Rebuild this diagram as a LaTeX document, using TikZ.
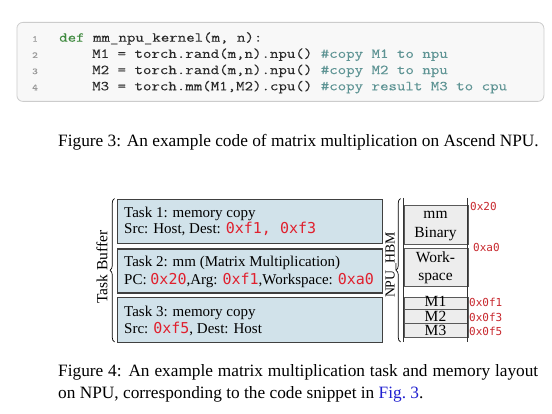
\documentclass[tikz,border=0pt]{standalone}
\usepackage{fontspec}
\setmainfont{Liberation Serif}
\newfontfamily\codefont[FakeStretch=1.2,FakeBold=0.12]{Latin Modern Mono}
\newfontfamily\hexfont{DejaVu Sans Mono}
\usetikzlibrary{decorations.pathreplacing}
\definecolor{codebg}{HTML}{F8F8F8}
\definecolor{codeborder}{HTML}{CCCCCC}
\definecolor{codetext}{HTML}{2A2A2A}
\definecolor{kwgreen}{HTML}{3F8A3F}
\definecolor{cmtteal}{HTML}{5E9494}
\definecolor{lnogray}{HTML}{9A9A9A}
\definecolor{taskfill}{HTML}{D1E2EA}
\definecolor{hexred}{HTML}{E0202E}
\definecolor{addrred}{HTML}{C8282E}
\definecolor{cellfill}{HTML}{EDEDED}
\definecolor{linkblue}{HTML}{2020D0}
\newcommand{\hx}[1]{{\hexfont\color{hexred}#1}}
\tikzset{
  codeline/.style={anchor=base west, inner sep=0pt, font=\codefont\fontsize{13.7}{16}\selectfont, text=codetext},
  lineno/.style={anchor=base, inner sep=0pt, font=\codefont\fontsize{9}{10}\selectfont, text=lnogray},
  caption/.style={anchor=base west, inner sep=0pt, font=\fontsize{17.3}{20}\selectfont},
  taskbox/.style={draw=black!75, line width=1.1pt, fill=taskfill, anchor=north west, minimum width=265pt, inner sep=0pt},
  tasktext/.style={anchor=base west, inner sep=0pt, font=\fontsize{15}{17}\selectfont},
  sidelabel/.style={rotate=90, inner sep=0pt, font=\fontsize{15.5}{17}\selectfont},
  cell/.style={draw=black!65, line width=0.6pt, fill=cellfill, anchor=north west, minimum width=64pt, inner sep=0pt},
  celltext/.style={anchor=base, inner sep=0pt, font=\fontsize{15.5}{17}\selectfont},
  addr/.style={anchor=base west, inner sep=0pt, font=\hexfont\fontsize{11}{12}\selectfont, text=addrred},
  bracestyle/.style={decorate, decoration={brace, amplitude=4.5pt}, line width=0.7pt},
}
\begin{document}
\begin{tikzpicture}[x=1pt,y=-1pt]
\fill[white] (0,0) rectangle (552,414);
\useasboundingbox (0,0) rectangle (552,414);
% code box
\node[draw=codeborder, fill=codebg, rounded corners=6pt, line width=0.8pt, anchor=north west, minimum width=527pt, minimum height=79pt, inner sep=0pt] (codebox) at (16.5,22) {};
\node[lineno] (n1) at (35,41.7) {1};
\node[lineno] (n2) at (35,57.9) {2};
\node[lineno] (n3) at (35,74.1) {3};
\node[lineno] (n4) at (35,90.3) {4};
\node[codeline] (c1) at (59,41.7) {\textcolor{kwgreen}{def} mm\_npu\_kernel(m, n):};
\node[codeline] (c2) at (92,57.9) {M1 = torch.rand(m,n).npu() \textcolor{cmtteal}{\#copy M1 to npu}};
\node[codeline] (c3) at (92,74.1) {M2 = torch.rand(m,n).npu() \textcolor{cmtteal}{\#copy M2 to npu}};
\node[codeline] (c4) at (92,90.3) {M3 = torch.mm(M1,M2).cpu() \textcolor{cmtteal}{\#copy result M3 to cpu}};
% caption 3
\node[caption] (cap3) at (58,146.7) {Figure 3: An example code of matrix multiplication on Ascend NPU.};
% task boxes
\node[taskbox, minimum height=44pt] (t1) at (117,198.7) {};
\node[taskbox, minimum height=44pt] (t2) at (117,248.5) {};
\node[taskbox, minimum height=45.5pt] (t3) at (117,296.8) {};
\node[tasktext] (t1a) at (124,217.3) {Task 1: memory copy};
\node[tasktext] (t1b) at (124,234) {Src: Host, Dest: \hx{0xf1, 0xf3}};
\node[tasktext] (t2a) at (124,267) {Task 2: mm (Matrix Multiplication)};
\node[tasktext] (t2b) at (124,284.3) {PC: \hx{0x20},Arg: \hx{0xf1},Workspace: \hx{0xa0}};
\node[tasktext] (t3a) at (124,316.7) {Task 3: memory copy};
\node[tasktext] (t3b) at (124,333.3) {Src: \hx{0xf5}, Dest: Host};
% task buffer brace
\coordinate (tbb) at (114.5,342);
\coordinate (tbt) at (114.5,198.5);
\draw[bracestyle] (tbb) -- (tbt);
\node[sidelabel] (tbl) at (102,267) {Task Buffer};
% npu hbm brace
\coordinate (hbb) at (400.5,342);
\coordinate (hbt) at (400.5,198.5);
\draw[bracestyle] (hbb) -- (hbt);
\node[sidelabel, font=\fontsize{13.8}{15}\selectfont] (hbl) at (391,265) {NPU\_HBM};
% memory column
\node[cell, minimum height=39pt] (mb) at (403.5,205) {};
\node[cell, minimum height=38pt] (ws) at (403.5,248) {};
\node[cell, minimum height=12.5pt] (m1) at (403.5,297) {};
\node[cell, minimum height=14pt] (m2) at (403.5,309.5) {};
\node[cell, minimum height=13.5pt] (m3) at (403.5,323.5) {};
\coordinate (colTL) at (403.5,198);
\coordinate (colBL) at (403.5,342);
\coordinate (colTR) at (467.5,198);
\coordinate (colBR) at (467.5,342);
\draw[black!80, line width=1pt] (colTL) -- (colBL);
\draw[black!80, line width=1pt] (colTR) -- (colBR);
\node[celltext] (mbt1) at (435.5,219) {mm};
\node[celltext] (mbt2) at (435.5,238) {Binary};
\node[celltext] (wst1) at (435.5,263) {Work-};
\node[celltext] (wst2) at (435.5,281) {space};
\node[celltext] (m1t) at (435.5,307) {M1};
\node[celltext] (m2t) at (435.5,321.5) {M2};
\node[celltext] (m3t) at (435.5,335.5) {M3};
\node[addr] (a1) at (470,210.5) {0x20};
\node[addr] (a2) at (473,252) {0xa0};
\node[addr] (a3) at (469,307) {0x0f1};
\node[addr] (a4) at (469,321.5) {0x0f3};
\node[addr] (a5) at (469,335) {0x0f5};
% caption 4
\node[caption] (cap4a) at (58,376) {\makebox[480pt][s]{Figure 4: An example matrix multiplication task and memory layout}};
\node[caption] (cap4b) at (58,398.5) {on NPU, corresponding to the code snippet in \textcolor{linkblue}{Fig.~3}.};
\end{tikzpicture}
\end{document}
